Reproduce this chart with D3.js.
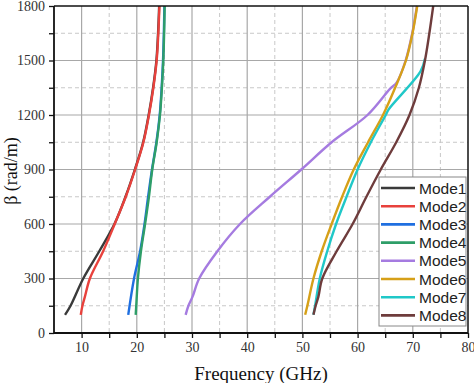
<!DOCTYPE html>
<html><head><meta charset="utf-8">
<script src="https://cdn.jsdelivr.net/npm/d3@7"></script>
<style>html,body{margin:0;padding:0;background:#fff;}svg{display:block;}</style>
</head><body>
<script>
// ---- data ----
const modeNames = ["Mode1","Mode2","Mode3","Mode4","Mode5","Mode6","Mode7","Mode8"];
const modeColors = ["#3a3a3a","#e8413c","#1f6fe0","#2e9e68","#a57be0","#d6a018","#20c8c8","#6e3c3c"];

const mode1Beta = [100,150,300,450,600,750,900,1050,1200,1350,1500,1650,1800];
const mode1Freq = [7.0,8.0,10.3,13.2,15.95,17.95,19.65,21.15,22.15,22.95,23.55,23.85,24.05];
const mode2Beta = [100,150,200,300,450,600,750,900,1050,1200,1350,1500,1650,1800];
const mode2Freq = [9.85,10.15,10.6,11.5,13.9,16.0,18.0,19.7,21.2,22.2,23.0,23.6,23.9,24.1];
const mode3Beta = [100,300,450,600,750,900,1050,1200,1350,1500,1650,1800];
const mode3Freq = [18.45,19.5,20.6,21.4,22.05,22.75,23.55,24.15,24.5,24.75,24.9,25.0];
const mode4Beta = [100,150,300,450,600,750,900,1050,1200,1350,1500,1650,1800];
const mode4Freq = [19.8,19.9,20.2,20.75,21.5,22.2,22.8,23.6,24.2,24.55,24.8,24.95,25.05];
const mode5Beta = [100,150,200,300,450,600,750,900,1050,1200,1345,1380,1500,1650,1800];
const mode5Freq = [28.85,29.35,30.1,31.3,34.6,38.7,44.1,49.8,55.3,61.8,65.9,67.1,68.7,69.9,70.75];
const mode6Beta = [100,150,300,450,600,750,900,1050,1200,1350,1500,1650,1800];
const mode6Freq = [50.5,50.9,52.0,53.5,55.3,57.2,59.3,61.9,64.6,66.8,68.75,69.95,70.8];
const mode7Beta = [100,150,300,450,600,750,900,1050,1200,1230,1440,1510];
const mode7Freq = [52.0,52.3,53.15,54.5,56.1,58.0,60.0,62.4,65.1,65.6,71.4,72.2];
const mode8Beta = [100,150,200,300,450,600,750,900,1050,1200,1350,1500,1650,1800];
const mode8Freq = [52.0,52.4,52.9,53.6,56.2,59.1,61.6,64.2,67.0,69.4,71.1,72.2,73.0,73.7];

const xTicks = [10,20,30,40,50,60,70,80];
const yTicks = [0,300,600,900,1200,1500,1800];

const modeBeta = [mode1Beta,mode2Beta,mode3Beta,mode4Beta,mode5Beta,mode6Beta,mode7Beta,mode8Beta];
const modeFreq = [mode1Freq,mode2Freq,mode3Freq,mode4Freq,mode5Freq,mode6Freq,mode7Freq,mode8Freq];

// ---- layout ----
const W = 474, H = 383;
const pLeft = 54, pRight = 468, pTop = 6, pBottom = 333;
const svg = d3.select("body").append("svg").attr("width", W).attr("height", H);

const x = d3.scaleLinear().domain([5, 80]).range([pLeft, pRight]);
const y = d3.scaleLinear().domain([0, 1800]).range([pBottom, pTop]);

// grid
const g = svg.append("g");
const xMinor = d3.range(15, 80, 10);
const yMinor = d3.range(150, 1800, 300);
g.selectAll(".xmin").data(xMinor).enter().append("line")
  .attr("x1", d => x(d)).attr("x2", d => x(d)).attr("y1", pTop).attr("y2", pBottom)
  .attr("stroke", "#c8c8c8").attr("stroke-width", 1).attr("stroke-dasharray", "4,3");
g.selectAll(".ymin").data(yMinor).enter().append("line")
  .attr("y1", d => y(d)).attr("y2", d => y(d)).attr("x1", pLeft).attr("x2", pRight)
  .attr("stroke", "#c8c8c8").attr("stroke-width", 1).attr("stroke-dasharray", "4,3");
g.selectAll(".xmaj").data(xTicks.filter(d => d < 80)).enter().append("line")
  .attr("x1", d => x(d)).attr("x2", d => x(d)).attr("y1", pTop).attr("y2", pBottom)
  .attr("stroke", "#a8a8a8").attr("stroke-width", 1.2);
g.selectAll(".ymaj").data(yTicks.filter(d => d > 0 && d < 1800)).enter().append("line")
  .attr("y1", d => y(d)).attr("y2", d => y(d)).attr("x1", pLeft).attr("x2", pRight)
  .attr("stroke", "#a8a8a8").attr("stroke-width", 1.2);

// curves
const line = d3.line().x(d => x(d[0])).y(d => y(d[1])).curve(d3.curveCatmullRom.alpha(0.5));
modeNames.forEach((name, i) => {
  const pts = modeFreq[i].map((f, j) => [f, modeBeta[i][j]]);
  svg.append("path").datum(pts).attr("d", line)
    .attr("fill", "none").attr("stroke", modeColors[i]).attr("stroke-width", 2.4)
    .attr("stroke-linejoin", "round");
});

// frame
svg.append("line").attr("x1", pLeft).attr("x2", pRight).attr("y1", pTop).attr("y2", pTop)
  .attr("stroke", "#111").attr("stroke-width", 1.5);
svg.append("line").attr("x1", pRight).attr("x2", pRight).attr("y1", pTop).attr("y2", pBottom)
  .attr("stroke", "#111").attr("stroke-width", 1.5);

// axes
const fontSerif = "'Liberation Serif','Times New Roman',serif";
const xAxis = d3.axisBottom(x).tickValues(d3.range(10, 81, 5)).tickSize(5).tickPadding(4)
  .tickFormat(d => (d % 10 === 0 ? d : ""));
const gx = svg.append("g").attr("transform", `translate(0,${pBottom})`).call(xAxis);
gx.select(".domain").attr("d", `M${pLeft},0H${pRight}`).attr("stroke", "#111").attr("stroke-width", 1.8);
gx.selectAll(".tick line").attr("stroke", "#111").attr("stroke-width", 1.3);
gx.selectAll(".tick text").attr("font-family", fontSerif).attr("font-size", 14).attr("fill", "#333");

const yAxis = d3.axisLeft(y).tickValues(d3.range(0, 1801, 150)).tickSize(5).tickPadding(4)
  .tickFormat(d => (d % 300 === 0 ? d : ""));
const gy = svg.append("g").attr("transform", `translate(${pLeft},0)`).call(yAxis);
gy.select(".domain").attr("d", `M0,${pBottom}V${pTop}`).attr("stroke", "#111").attr("stroke-width", 1.8);
gy.selectAll(".tick line").attr("stroke", "#111").attr("stroke-width", 1.3);
gy.selectAll(".tick text").attr("font-family", fontSerif).attr("font-size", 14).attr("fill", "#333");

// axis titles
svg.append("text").attr("x", 261).attr("y", 380).attr("text-anchor", "middle")
  .attr("font-family", fontSerif).attr("font-size", 19).attr("fill", "#111")
  .text("Frequency (GHz)");
svg.append("text").attr("transform", `translate(17,171) rotate(-90)`)
  .attr("text-anchor", "middle").attr("font-family", fontSerif).attr("font-size", 18).attr("fill", "#111")
  .text("β (rad/m)");

// legend
const lg = svg.append("g");
lg.append("rect").attr("x", 379).attr("y", 177).attr("width", 87).attr("height", 149)
  .attr("fill", "#fff").attr("stroke", "#888").attr("stroke-width", 1);
modeNames.forEach((name, i) => {
  const yy = 188 + i * 18.2;
  lg.append("line").attr("x1", 381).attr("x2", 415).attr("y1", yy).attr("y2", yy)
    .attr("stroke", modeColors[i]).attr("stroke-width", 2.6);
  lg.append("text").attr("x", 419).attr("y", yy + 5.5)
    .attr("font-family", "'Liberation Sans',Arial,sans-serif").attr("font-size", 15.5).attr("fill", "#222")
    .text(name);
});
</script>
</body></html>
